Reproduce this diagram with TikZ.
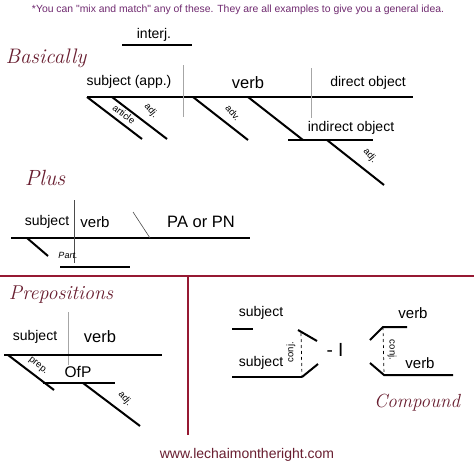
\documentclass[tikz,border=0pt]{standalone}
\usepackage{fontspec}
\newfontfamily\hand{Liberation Sans}
\usepackage{tikz}
\usetikzlibrary{calc}
\definecolor{notepurple}{RGB}{112,42,112}
\definecolor{titlered}{RGB}{105,30,48}
\definecolor{seprule}{RGB}{150,25,50}
\begin{document}
\begin{tikzpicture}[
            %scale=1,
            x=1pt,y=-1pt,
            word/.style={font=\hand\fontsize{14}{16}\selectfont,inner sep=0pt},
            bigword/.style={font=\hand\fontsize{16.5}{18}\selectfont,inner sep=0pt},
            tiny/.style={font=\hand\fontsize{9.5}{10}\selectfont,inner sep=0pt},
            heading/.style={font=\itshape\fontsize{21}{23}\selectfont,text=titlered,inner sep=0pt},
            base/.style={line width=2pt},
            divider/.style={gray!70,line width=0.8pt},
            sep/.style={seprule,line width=2pt}
          ]
          \useasboundingbox[fill=white] (0,0) rectangle (474,474);
          \node[font=\hand\fontsize{10.4}{12}\selectfont,text=notepurple,inner sep=0pt] (note) at (238,10)
            {*You can "mix and match" any of these. They are all examples to give you a general idea.};
          % interjection
          \node[word] (interj) at (154,35) {interj.};
          \coordinate (i0) at (122,45); \coordinate (i1) at (192,45);
          \draw[base] (i0) -- (i1);
          % Basically
          \node[heading] (basic) at (46,58) {Basically};
          \coordinate (b0) at (87,97); \coordinate (b1) at (413,97);
          \draw[base] (b0) -- (b1);
          \draw[divider] (183,65) -- (183,117);
          \draw[divider] (311,68) -- (311,118);
          \node[word] (bsubj) at (129,82) {subject (app.)};
          \node[bigword] (bverb) at (248,83) {verb};
          \node[word] (bdobj) at (368,83) {direct object};
          \coordinate (art) at (142,139); \coordinate (a1) at (112,97); \coordinate (adj) at (167,139);
          \coordinate (v0) at (193,97); \coordinate (adv) at (248,140);
          \coordinate (v1) at (248,97); \coordinate (io) at (303,140);
          \draw[base] (b0) -- (art);
          \draw[base] (a1) -- (adj);
          \draw[base] (v0) -- (adv);
          \draw[base] (v1) -- (io);
          \node[tiny,rotate=-37] (lart) at (124,114) {article};
          \node[tiny,rotate=-50] (ladj) at (151,111) {adj.};
          \node[tiny,rotate=-50] (ladv) at (233,113) {adv.};
          \coordinate (io0) at (288,140); \coordinate (io1) at (373,140);
          \draw[base] (io0) -- (io1);
          \node[word] (bio) at (351,128) {indirect object};
          \coordinate (j0) at (327,140); \coordinate (j1) at (384,185);
          \draw[base] (j0) -- (j1);
          \node[tiny,rotate=-50] (ladj2) at (370,156) {adj.};
          % Plus
          \node[heading,font=\itshape\fontsize{22}{24}\selectfont] (plus) at (45,178) {Plus};
          \coordinate (p0) at (11,238); \coordinate (p1) at (250,238);
          \draw[base] (p0) -- (p1);
          \draw[divider,gray!60!black] (74,200) -- (74,263);
          \node[word] (psubj) at (47,222) {subject};
          \node[bigword,font=\hand\fontsize{15}{17}\selectfont] (pverb) at (95,222) {verb};
          \node[bigword] (ppn) at (201,222) {PA or PN};
          \coordinate (bs0) at (133,212); \coordinate (bs1) at (150,238);
          \draw[line width=0.6pt,gray!60!black] (bs0) -- (bs1);
          \coordinate (pt0) at (27,238); \coordinate (pt1) at (48,256);
          \draw[base] (pt0) -- (pt1);
          \node[tiny,font=\hand\itshape\fontsize{9}{10}\selectfont] (part) at (68,255) {Part.};
          \coordinate (q0) at (60,267); \coordinate (q1) at (130,267);
          \draw[base] (q0) -- (q1);
          % separators
          \coordinate (s0) at (0,276); \coordinate (s1) at (474,276);
          \coordinate (s2) at (188,276); \coordinate (s3) at (188,435);
          \draw[sep] (s0) -- (s1);
          \draw[sep] (s2) -- (s3);
          % Prepositions
          \node[heading,font=\itshape\fontsize{20}{22}\selectfont] (prep) at (61,295) {Prepositions};
          \draw[divider] (68,312) -- (68,365);
          \node[word] (rsubj) at (35,337) {subject};
          \node[bigword] (rverb) at (100,337) {verb};
          \coordinate (r0) at (4,355); \coordinate (r1) at (162,355);
          \draw[base] (r0) -- (r1);
          \coordinate (pr0) at (8,355); \coordinate (pr1) at (54,390);
          \draw[base] (pr0) -- (pr1);
          \node[tiny,rotate=-38] (lprep) at (38,366) {prep.};
          \coordinate (o0) at (43,383); \coordinate (o1) at (115,383);
          \draw[base] (o0) -- (o1);
          \node[word,font=\hand\fontsize{15.5}{17}\selectfont] (ofp) at (78,372) {OfP};
          \coordinate (oa0) at (83,383); \coordinate (oa1) at (140,426);
          \draw[base] (oa0) -- (oa1);
          \node[tiny,rotate=-50] (ladj3) at (125,399) {adj.};
          % Compound
          \node[word] (csubj1) at (261,313) {subject};
          \coordinate (c0) at (232,329); \coordinate (c1) at (253,329);
          \draw[base] (c0) -- (c1);
          \node[word] (csubj2) at (261,363) {subject};
          \coordinate (c2) at (232,377); \coordinate (c3) at (302,377);
          \draw[base] (c2) -- (c3);
          \coordinate (lu0) at (298,330); \coordinate (lu1) at (317,341);
          \coordinate (ll1) at (318,364); \coordinate (ld0) at (301,333);
          \draw[base] (lu0) -- (lu1);
          \draw[base] (c3) -- (ll1);
          \draw[dashed,line width=0.7pt] (ld0) -- (c3);
          \node[tiny,rotate=90] (lconj) at (291,352) {conj.};
          \node[font=\hand\fontsize{19}{21}\selectfont,inner sep=0pt] (join) at (335,350) {- I};
          \coordinate (ru0) at (370,340); \coordinate (ru1) at (383,327); \coordinate (ru2) at (407,327);
          \coordinate (rl0) at (370,363); \coordinate (rl1) at (384,375); \coordinate (rl2) at (453,375);
          \draw[base] (ru0) -- (ru1) -- (ru2);
          \draw[base] (rl0) -- (rl1) -- (rl2);
          \draw[dashed,line width=0.7pt] (ru1) -- (rl1);
          \node[tiny,rotate=-90] (rconj) at (392,350) {conj.};
          \node[word,font=\hand\fontsize{15}{17}\selectfont] (cverb1) at (413,313) {verb};
          \node[word,font=\hand\fontsize{15}{17}\selectfont] (cverb2) at (420,363) {verb};
          \node[heading,font=\itshape\fontsize{19}{21}\selectfont] (comp) at (417,403) {Compound};
          % footer
          \node[font=\hand\fontsize{14}{16}\selectfont,text=titlered,inner sep=0pt] (url) at (247,455) {www.lechaimontheright.com};
        \end{tikzpicture}
\end{document}
